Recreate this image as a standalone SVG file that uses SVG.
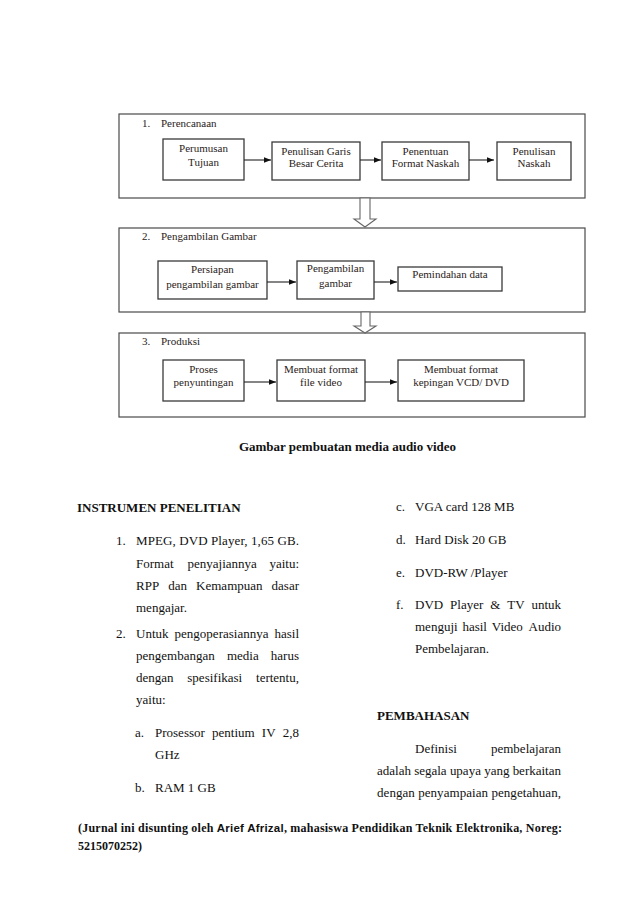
<svg xmlns="http://www.w3.org/2000/svg" width="638" height="902" viewBox="0 0 638 902">
<style>
.bg{fill:#ffffff}
.stage{fill:#ffffff;stroke:#4a4a4a;stroke-width:1.2}
.box{fill:#ffffff;stroke:#3a3a3a;stroke-width:1.3}
.dt{font-family:"Liberation Serif","Times New Roman",serif;font-size:11px;fill:#2a2220}
.dtc{font-family:"Liberation Serif","Times New Roman",serif;font-size:11px;fill:#2a2220;text-anchor:middle}
.conn{stroke:#222;stroke-width:1.1;fill:none}
.block{fill:#ffffff;stroke:#666;stroke-width:1.1}
.t{font-family:"Liberation Serif","Times New Roman",serif;font-size:13px;fill:#111}
.tb{font-family:"Liberation Serif","Times New Roman",serif;font-size:13px;font-weight:bold;fill:#111}
.te{font-family:"Liberation Serif","Times New Roman",serif;font-size:13px;fill:#111;text-anchor:end}
.fb{font-family:"Liberation Serif","Times New Roman",serif;font-size:12px;font-weight:bold;fill:#111}
.fs{font-family:"Liberation Sans",Arial,sans-serif;font-size:11.5px;font-weight:bold;fill:#111}
</style>
<defs>
<marker id="ah" viewBox="0 0 8 8" refX="8" refY="4" markerWidth="7" markerHeight="7" markerUnits="userSpaceOnUse" orient="auto">
<path d="M0,0.8 L8,4 L0,7.2 Z" fill="#111"/>
</marker>
</defs>
<rect class="bg" x="0" y="0" width="638" height="902"/>

<!-- Stage 1 -->
<g id="stage1">
<rect class="stage" x="119" y="114" width="466" height="84"/>
<text class="dt" x="142" y="127">1.</text>
<text class="dt" x="161" y="127">Perencanaan</text>
</g>
<g id="perumusan-tujuan">
<rect class="box" x="163" y="139" width="81" height="41"/>
<text class="dtc" x="203.5" y="152">Perumusan</text>
<text class="dtc" x="203.5" y="166">Tujuan</text>
</g>
<g id="penulisan-garis">
<rect class="box" x="272" y="142" width="88" height="38"/>
<text class="dtc" x="316" y="155">Penulisan Garis</text>
<text class="dtc" x="316" y="167">Besar Cerita</text>
</g>
<g id="penentuan-format">
<rect class="box" x="382" y="142" width="87" height="38"/>
<text class="dtc" x="425.5" y="155">Penentuan</text>
<text class="dtc" x="425.5" y="167">Format Naskah</text>
</g>
<g id="penulisan-naskah">
<rect class="box" x="497" y="142" width="74" height="38"/>
<text class="dtc" x="534" y="155">Penulisan</text>
<text class="dtc" x="534" y="167">Naskah</text>
</g>

<!-- Stage 2 -->
<g id="stage2">
<rect class="stage" x="119" y="228" width="466" height="84"/>
<text class="dt" x="142" y="240">2.</text>
<text class="dt" x="161" y="240">Pengambilan Gambar</text>
</g>
<g id="persiapan">
<rect class="box" x="158" y="261" width="109" height="38"/>
<text class="dtc" x="212.5" y="273">Persiapan</text>
<text class="dtc" x="212.5" y="288">pengambilan gambar</text>
</g>
<g id="pengambilan">
<rect class="box" x="297" y="261" width="77" height="38"/>
<text class="dtc" x="335.5" y="272">Pengambilan</text>
<text class="dtc" x="335.5" y="287">gambar</text>
</g>
<g id="pemindahan">
<rect class="box" x="398" y="267" width="104" height="24"/>
<text class="dtc" x="450" y="278">Pemindahan data</text>
</g>

<!-- Stage 3 -->
<g id="stage3">
<rect class="stage" x="119" y="333" width="466" height="84"/>
<text class="dt" x="142" y="345">3.</text>
<text class="dt" x="161" y="345">Produksi</text>
</g>
<g id="proses">
<rect class="box" x="163" y="360" width="81" height="41"/>
<text class="dtc" x="203.5" y="373">Proses</text>
<text class="dtc" x="203.5" y="386">penyuntingan</text>
</g>
<g id="format-video">
<rect class="box" x="277" y="360" width="88" height="41"/>
<text class="dtc" x="321" y="373">Membuat format</text>
<text class="dtc" x="321" y="386">file video</text>
</g>
<g id="format-keping">
<rect class="box" x="398" y="360" width="126" height="41"/>
<text class="dtc" x="461" y="373">Membuat format</text>
<text class="dtc" x="461" y="386">kepingan VCD/ DVD</text>
</g>

<!-- Connectors -->
<g id="connectors">
<line class="conn" x1="244" y1="160" x2="271" y2="160" marker-end="url(#ah)"/>
<line class="conn" x1="360" y1="160" x2="381" y2="160" marker-end="url(#ah)"/>
<line class="conn" x1="469" y1="160" x2="494" y2="160" marker-end="url(#ah)"/>
<line class="conn" x1="267" y1="282" x2="296" y2="282" marker-end="url(#ah)"/>
<line class="conn" x1="374" y1="282" x2="397" y2="282" marker-end="url(#ah)"/>
<line class="conn" x1="244" y1="382" x2="276" y2="382" marker-end="url(#ah)"/>
<line class="conn" x1="365" y1="382" x2="397" y2="382" marker-end="url(#ah)"/>
<polygon class="block" points="360,198 360,219 354,219 365,227 376,219 370,219 370,198"/>
<polygon class="block" points="361,312 361,326 354,326 365,333 376,326 370,326 370,312"/>
</g>

<!-- Caption -->
<text class="tb" x="347.5" y="451" text-anchor="middle">Gambar pembuatan media audio video</text>

<!-- Left column -->
<text class="tb" x="77" y="512">INSTRUMEN PENELITIAN</text>
<text class="t" x="116" y="545">1.</text>
<text class="t" x="136" y="545" textLength="163" lengthAdjust="spacing">MPEG, DVD Player, 1,65 GB.</text>
<text class="t" x="136" y="568">Format</text>
<text class="t" x="187.5" y="568">penyajiannya</text>
<text class="te" x="299" y="568">yaitu:</text>
<text class="t" x="136" y="590">RPP</text>
<text class="t" x="168.2" y="590">dan</text>
<text class="t" x="196.1" y="590">Kemampuan</text>
<text class="te" x="299" y="590">dasar</text>
<text class="t" x="136" y="612">mengajar.</text>

<text class="t" x="116" y="638">2.</text>
<text class="t" x="136" y="638">Untuk</text>
<text class="t" x="174.6" y="638">pengoperasiannya</text>
<text class="te" x="299" y="638">hasil</text>
<text class="t" x="136" y="660">pengembangan</text>
<text class="t" x="226.9" y="660">media</text>
<text class="te" x="299" y="660">harus</text>
<text class="t" x="136" y="682">dengan</text>
<text class="t" x="187.3" y="682">spesifikasi</text>
<text class="te" x="299" y="682">tertentu,</text>
<text class="t" x="136" y="704">yaitu:</text>

<text class="t" x="135" y="737">a.</text>
<text class="t" x="155" y="737">Prosessor</text>
<text class="t" x="212" y="737">pentium</text>
<text class="t" x="261.8" y="737">IV</text>
<text class="te" x="299" y="737">2,8</text>
<text class="t" x="155" y="759">GHz</text>
<text class="t" x="135" y="792">b.</text>
<text class="t" x="155" y="792">RAM 1 GB</text>

<!-- Right column -->
<text class="t" x="396" y="511">c.</text>
<text class="t" x="415" y="511">VGA card 128 MB</text>
<text class="t" x="396" y="544">d.</text>
<text class="t" x="415" y="544">Hard Disk 20 GB</text>
<text class="t" x="396" y="577">e.</text>
<text class="t" x="415" y="577">DVD-RW /Player</text>
<text class="t" x="396" y="609">f.</text>
<text class="t" x="415" y="609">DVD</text>
<text class="t" x="450.1" y="609">Player</text>
<text class="t" x="490.2" y="609">&amp;</text>
<text class="t" x="507.2" y="609">TV</text>
<text class="te" x="561" y="609">untuk</text>
<text class="t" x="415" y="631">menguji</text>
<text class="t" x="462.4" y="631">hasil</text>
<text class="t" x="491.8" y="631">Video</text>
<text class="te" x="561" y="631">Audio</text>
<text class="t" x="415" y="653">Pembelajaran.</text>

<text class="tb" x="377" y="720">PEMBAHASAN</text>
<text class="t" x="415" y="753">Definisi</text>
<text class="te" x="561" y="753">pembelajaran</text>
<text class="t" x="377" y="775" textLength="184" lengthAdjust="spacing">adalah segala upaya yang berkaitan</text>
<text class="t" x="377" y="797" textLength="184" lengthAdjust="spacing">dengan penyampaian pengetahuan,</text>

<!-- Footer -->
<text x="78" y="832" textLength="484" lengthAdjust="spacing"><tspan class="fb">(Jurnal ini disunting oleh </tspan><tspan class="fs">Arief Afrizal</tspan><tspan class="fb">, mahasiswa Pendidikan Teknik Elektronika, Noreg:</tspan></text>
<text class="fb" x="78" y="850">5215070252)</text>
</svg>
